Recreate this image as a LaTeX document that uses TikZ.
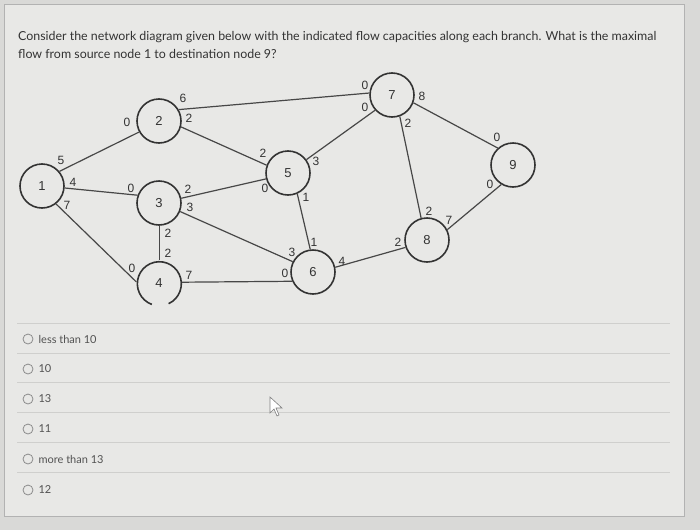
\documentclass[tikz,border=0pt]{standalone}
\usepackage{fontspec}
\setmainfont{Lato}
\newfontfamily\digitfont{Liberation Sans}
\usetikzlibrary{positioning}

\definecolor{panelgray}{HTML}{E8E8E6}
\definecolor{pagegray}{HTML}{D9D9D7}
\definecolor{inkgray}{HTML}{333333}
\definecolor{rulegray}{HTML}{CFCFCD}

\tikzset{
  vertex/.style={circle, draw=inkgray, line width=1.6pt, minimum size=44pt, inner sep=0pt,
    font=\digitfont\fontsize{13}{14}\selectfont, text=inkgray},
  capnum/.style={font=\digitfont\fontsize{12}{13}\selectfont, text=inkgray, inner sep=0pt},
  branch/.style={draw=inkgray!90, line width=1.2pt},
  option/.style={anchor=west, font=\fontsize{11}{12}\selectfont, text=inkgray!85, inner sep=0pt},
  radio/.style={circle, draw=gray!90, line width=0.8pt, minimum size=10pt, inner sep=0pt},
  divider/.style={draw=rulegray, line width=0.6pt}
}

\begin{document}
\begin{tikzpicture}[x=1pt,y=-1pt]
  \useasboundingbox (0,0) rectangle (700,530);
  \fill[pagegray] (0,0) rectangle (700,530);
  \filldraw[fill=panelgray, draw=gray!60, line width=0.8pt] (4,4) rectangle (684,516);

  % question
  \node[anchor=base west, inner sep=0pt, text=inkgray, font=\fontsize{12.4}{14}\selectfont] (q1) at (18,40)
    {Consider the network diagram given below with the indicated flow capacities along each branch. What is the maximal};
  \node[anchor=base west, inner sep=0pt, text=inkgray, font=\fontsize{12.4}{14}\selectfont] (q2) at (18,58)
    {flow from source node 1 to destination node 9?};

  % nodes
  \node[vertex] (n1) at (42,186) {1};
  \node[vertex] (n2) at (159,121) {2};
  \node[vertex] (n3) at (159,203) {3};
  \node[vertex, draw=none] (n4) at (159,283) {4};
  \draw[inkgray, line width=1.6pt] (n4.-65) arc[start angle=-65, end angle=250, radius=22pt];
  \node[vertex] (n5) at (288,173) {5};
  \node[vertex] (n6) at (313,272) {6};
  \node[vertex] (n7) at (392,95) {7};
  \node[vertex] (n8) at (427,240) {8};
  \node[vertex] (n9) at (513,165) {9};

  % branches
  \draw[branch] (n1.40) -- (n2.209);
  \draw[branch] (n1.-5) -- (n3.160);
  \draw[branch] (n1.-52) -- (n4.177);
  \draw[branch] (n2.30) -- (n7.175);
  \draw[branch] (n2.-15) -- (n5.160);
  \draw[branch] (n3.12) -- (n5.195);
  \draw[branch] (n3.-22) -- (n6.153);
  \draw[branch, line width=1pt] ([xshift=0.5pt]n3.south) -- ([xshift=0.5pt]n4.north);
  \draw[branch] (n4.2) -- (n6.204);
  \draw[branch] (n5.36) -- (n7.222);
  \draw[branch] (n5.-66) -- (n6.97);
  \draw[branch] (n7.-70) -- (n8.105);
  \draw[branch] (n7.-20) -- (n9.132);
  \draw[branch] (n6.12) -- (n8.199);
  \draw[branch] (n8.27) -- (n9.239);

  % capacities
  \node[capnum] (c12) at (61,160) {5};
  \node[capnum] (c21) at (127,122) {0};
  \node[capnum] (c13) at (73,182) {4};
  \node[capnum] (c31) at (131,188) {0};
  \node[capnum] (c14) at (67,205) {7};
  \node[capnum] (c41) at (132,268) {0};
  \node[capnum] (c27) at (183,98) {6};
  \node[capnum] (c25) at (189,118) {2};
  \node[capnum] (c35) at (188,189) {2};
  \node[capnum] (c36) at (190,207) {3};
  \node[capnum] (c34) at (168,233) {2};
  \node[capnum] (c43) at (168,253) {2};
  \node[capnum] (c46) at (189,275) {7};
  \node[capnum] (c72) at (365,85) {0};
  \node[capnum] (c75) at (365,107) {0};
  \node[capnum] (c79) at (422,96) {8};
  \node[capnum] (c78) at (408,123) {2};
  \node[capnum] (c52) at (263,153) {2};
  \node[capnum] (c53) at (265,188) {0};
  \node[capnum] (c57) at (316,161) {3};
  \node[capnum] (c56) at (306,197) {1};
  \node[capnum] (c65) at (314,242) {1};
  \node[capnum] (c63) at (292,252) {3};
  \node[capnum] (c64) at (285,273) {0};
  \node[capnum] (c68) at (342,261) {4};
  \node[capnum] (c87) at (429,211) {2};
  \node[capnum] (c86) at (398,242) {2};
  \node[capnum] (c89) at (449,220) {7};
  \node[capnum] (c97) at (497,137) {0};
  \node[capnum] (c98) at (490,184) {0};

  % answer choices
  \foreach \y in {323,353,382,412,442,472}
    \draw[divider] (17,\y) -- (670,\y);
  \node[radio] (r1) at (28,339) {};
  \node[option, right=5pt of r1] (o1) {less than 10};
  \node[radio] (r2) at (28,369) {};
  \node[option, right=5pt of r2] (o2) {10};
  \node[radio] (r3) at (28,399) {};
  \node[option, right=5pt of r3] (o3) {13};
  \node[radio] (r4) at (28,429) {};
  \node[option, right=5pt of r4] (o4) {11};
  \node[radio] (r5) at (28,459) {};
  \node[option, right=5pt of r5] (o5) {more than 13};
  \node[radio] (r6) at (28,490) {};
  \node[option, right=5pt of r6] (o6) {12};

  % pointer
  \filldraw[fill=white, draw=gray, line width=0.6pt] (270,397) -- (270,413) -- (274,409) -- (277,416)
    -- (279,415) -- (276,408) -- (282,408) -- cycle;
\end{tikzpicture}
\end{document}
